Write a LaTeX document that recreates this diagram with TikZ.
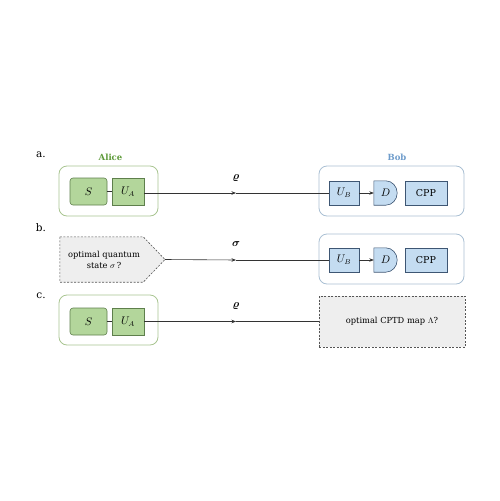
\documentclass[tikz,border=0pt]{standalone}
\usepackage{amsmath}
\usepackage{fontspec}
\setmainfont{DejaVu Serif}
\usetikzlibrary{arrows.meta}
\definecolor{gfill}{HTML}{B3D69B}
\definecolor{gdraw}{HTML}{5E7F4C}
\definecolor{gouter}{HTML}{A8C490}
\definecolor{gtext}{HTML}{5E9A3A}
\definecolor{bfill}{HTML}{C4DCF1}
\definecolor{bdraw}{HTML}{3E5673}
\definecolor{bouter}{HTML}{A9BFD3}
\definecolor{btext}{HTML}{6E9CCB}
\definecolor{qfill}{HTML}{EEEEEE}
\definecolor{qdraw}{HTML}{555555}
\definecolor{wire}{HTML}{333333}
\tikzset{
  outerg/.style={draw=gouter,line width=0.8pt,rounded corners=8pt,minimum width=99pt,minimum height=50pt},
  outerb/.style={draw=bouter,line width=0.8pt,rounded corners=8pt,minimum width=145pt,minimum height=50pt},
  gbox/.style={draw=gdraw,fill=gfill,line width=0.6pt,minimum height=27pt,font=\fontsize{10.5}{11}\selectfont},
  bbox/.style={draw=bdraw,fill=bfill,line width=0.6pt,minimum height=24pt,font=\fontsize{9.5}{10}\selectfont},
  mathlbl/.style={font=\fontsize{10.5}{11}\selectfont},
  qbox/.style={font=\fontsize{8.3}{11}\selectfont,align=center},
  qline/.style={draw=qdraw,fill=qfill,dash pattern=on 2pt off 1.5pt,line width=0.6pt},
  wireline/.style={draw=wire,line width=0.6pt},
  wirearrow/.style={wireline,-{Stealth[length=4.5pt,width=3.5pt]}},
  lbl/.style={font=\fontsize{10.5}{12}\selectfont},
  who/.style={font=\bfseries\fontsize{8.5}{10}\selectfont},
  chan/.style={font=\fontsize{10.5}{11}\selectfont},
  dstyle/.style={fill=bfill,draw=bdraw,line width=0.6pt},
}
\begin{document}
\begin{tikzpicture}[x=1pt,y=-1pt]
\useasboundingbox (0,0) rectangle (500,501);
% labels
\node[lbl] (la) at (41,155) {a.};
\node[lbl] (lb) at (41,228) {b.};
\node[lbl] (lc) at (41,296) {c.};
% ---------- row a ----------
\node[outerg] (alice) at (108.5,191) {};
\node[who,text=gtext] (alicet) at (110.5,157.5) {Alice};
\node[gbox,rounded corners=3pt,minimum width=37pt] (S1) at (88.5,191.5) {$S$};
\node[gbox,minimum width=32pt] (UA1) at (128,191.5) {$U_A$};
\draw[wireline] (S1) -- (UA1);
\node[outerb] (bob1) at (391.5,191) {};
\node[who,text=btext] (bobt) at (397,157.5) {Bob};
\node[bbox,mathlbl,minimum width=30pt] (UB1) at (344,193) {$U_B$};
\node[minimum width=23pt,minimum height=24pt] (D1) at (385.5,193) {};
\path[dstyle] (D1.south west) -- (D1.north west) -- ([xshift=-11.5pt]D1.north east) to[out=0,in=90] (D1.east) to[out=-90,in=0] ([xshift=-11.5pt]D1.south east) -- cycle;
\node[mathlbl] (D1t) at (D1) {$D$};
\node[bbox,minimum width=42pt] (CPP1) at (426,193) {CPP};
\coordinate (m1) at (236,193);
\draw[wirearrow] (UA1.east |- m1) -- (m1);
\draw[wireline] (m1) -- (UB1.west);
\draw[wirearrow] (UB1) -- (D1);
\node[chan] (rho1) at (236,178) {$\boldsymbol{\varrho}$};
% ---------- row b ----------
\node[minimum width=83pt,minimum height=45pt] (optr) at (101.5,259.5) {};
\coordinate (tip) at (165,259.5);
\path[qline] (optr.north west) -- (optr.north east) -- (tip) -- (optr.south east) -- (optr.south west) -- cycle;
\node[qbox] (opt) at (104,259.5) {optimal quantum\\state $\sigma$\,?};
\node[outerb] (bob2) at (391.5,259) {};
\node[bbox,mathlbl,minimum width=30pt] (UB2) at (344,260) {$U_B$};
\node[minimum width=23pt,minimum height=24pt] (D2) at (385.5,260) {};
\path[dstyle] (D2.south west) -- (D2.north west) -- ([xshift=-11.5pt]D2.north east) to[out=0,in=90] (D2.east) to[out=-90,in=0] ([xshift=-11.5pt]D2.south east) -- cycle;
\node[mathlbl] (D2t) at (D2) {$D$};
\node[bbox,minimum width=42pt] (CPP2) at (426,260) {CPP};
\coordinate (m2) at (236,260);
\draw[wirearrow] (tip) -- (m2);
\draw[wireline] (m2) -- (UB2.west);
\draw[wirearrow] (UB2) -- (D2);
\node[chan] (sig) at (236,244) {$\boldsymbol{\sigma}$};
% ---------- row c ----------
\node[outerg] (alice3) at (108.5,320) {};
\node[gbox,rounded corners=3pt,minimum width=37pt] (S3) at (88.5,321.5) {$S$};
\node[gbox,minimum width=32pt] (UA3) at (128,321.5) {$U_A$};
\draw[wireline] (S3) -- (UA3);
\node[qbox,qline,minimum width=146pt,minimum height=51pt] (cptd) at (392,321.5) {optimal CPTD map $\Lambda$?};
\coordinate (m3) at (236,321.5);
\draw[wirearrow] (UA3.east) -- (m3);
\draw[wireline] (m3) -- (cptd.west);
\node[chan] (rho3) at (236,306) {$\boldsymbol{\varrho}$};
\end{tikzpicture}
\end{document}
